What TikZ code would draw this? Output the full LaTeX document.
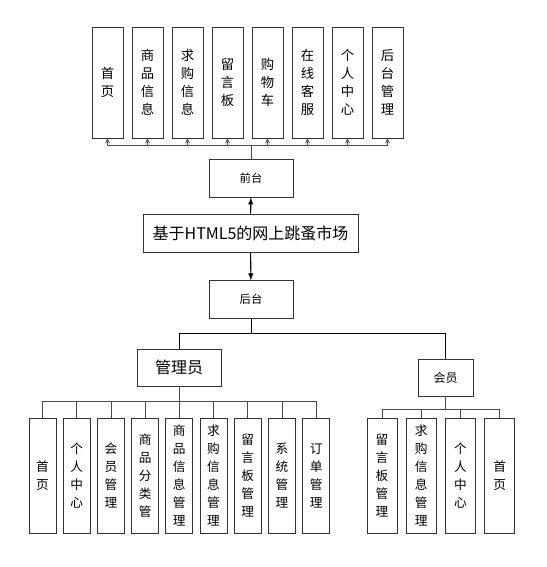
\documentclass[tikz,border=0pt]{standalone}
\usepackage{fontspec}
\setmainfont{Noto Sans CJK SC}
\usepackage{tikz}
\usetikzlibrary{shapes,arrows,positioning}
\tikzstyle{box} = [rectangle, draw=black!80, line width=0.7pt, inner sep=0pt, align=center]
\tikzstyle{vbox} = [box, font=\fontsize{9.5}{13.5}\selectfont]
\tikzstyle{link} = [black!70, line width=0.6pt]
\tikzstyle{arrow} = [thick,->,>=latex]

\begin{document}
\begin{tikzpicture}[x=0.75pt, y=-0.75pt]
    \useasboundingbox (0,0) rectangle (546,567);
    % middle column
    \node[box, minimum width=161.25pt, minimum height=28.5pt, font=\fontsize{12}{14}\selectfont] (main) at (250.5,233) {基于HTML5的网上跳蚤市场};
    \node[box, minimum width=63pt, minimum height=28.5pt, font=\fontsize{8.5}{10}\selectfont] (qiantai) at (251,178) {前台};
    \node[box, minimum width=63pt, minimum height=28pt, font=\fontsize{8.5}{10}\selectfont] (houtai) at (251,299.5) {后台};
    \draw[arrow] (main) -- (qiantai);
    \draw[arrow] (main) -- (houtai);
    % front pages
    \foreach \t [count=\i from 0] in {{首\\页}, {商\\品\\信\\息}, {求\\购\\信\\息}, {留\\言\\板}, {购\\物\\车}, {在\\线\\客\\服}, {个\\人\\中\\心}, {后\\台\\管\\理}} {
        \node[vbox, minimum width=23.25pt, minimum height=83.25pt, font=\fontsize{10}{13.5}\selectfont] (top\i) at ({107.5 + \i*40},82.5) {\t};
        \draw[link, ->, >=stealth] (qiantai.north) -- ++(0,-13) -| (top\i.south);
    }
    % back end
    \node[box, minimum width=63pt, minimum height=27.75pt, font=\fontsize{12}{14}\selectfont] (admin) at (179,367.5) {管理员};
    \node[box, minimum width=41.25pt, minimum height=27.75pt, font=\fontsize{9}{10}\selectfont] (member) at (445.5,377.5) {会员};
    \draw[link, black] (houtai.south) -- ++(0,15) -| (admin.north);
    \draw[link, black] (houtai.south) -- ++(0,15) -| (member.north);
    \foreach \t [count=\i from 0] in {{首\\页}, {个\\人\\中\\心}, {会\\员\\管\\理}, {商\\品\\分\\类\\管}, {商\\品\\信\\息\\管\\理}, {求\\购\\信\\息\\管\\理}, {留\\言\\板\\管\\理}, {系\\统\\管\\理}, {订\\单\\管\\理}} {
        \node[vbox, minimum width=20.25pt, minimum height=86.25pt] (gl\i) at ({42.5 + \i*34.2},475.5) {\t};
        \draw[link] (admin.south) -- ++(0,15) -| (gl\i.north);
    }
    \foreach \t [count=\i from 0] in {{留\\言\\板\\管\\理}, {求\\购\\信\\息\\管\\理}, {个\\人\\中\\心}, {首\\页}} {
        \node[vbox, minimum width=22.5pt, minimum height=86.25pt] (hy\i) at ({382 + \i*39.2},475.5) {\t};
        \draw[link] (member.south) -- ++(0,13) -| (hy\i.north);
    }
\end{tikzpicture}
\end{document}
